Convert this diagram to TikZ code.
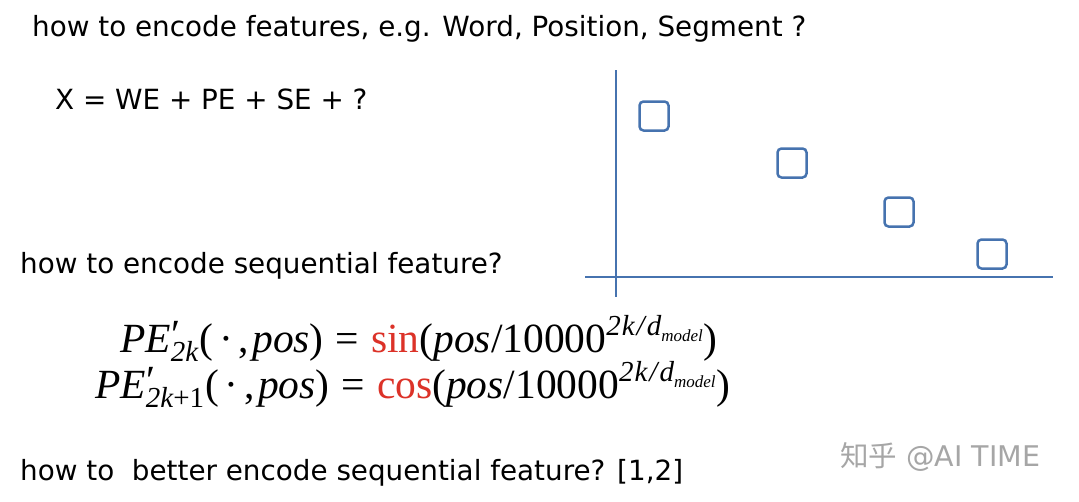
\documentclass[tikz,border=0pt]{standalone}
\usepackage{fontspec}
\setmainfont{DejaVu Sans}
\newfontfamily\cjk{Noto Sans CJK SC}
\newfontfamily\ser{Liberation Serif}
\definecolor{axblue}{RGB}{70,115,175}
\definecolor{fred}{RGB}{220,50,40}
\newcommand{\subsm}[1]{\raisebox{-9pt}{\fontsize{29}{29}\selectfont #1}}
\newcommand{\supsm}[1]{\raisebox{17pt}{\fontsize{29}{29}\selectfont #1}}
\newcommand{\dmod}{\supsm{\itshape 2\kern1pt k\kern2pt/\kern2pt d\raisebox{-6pt}{\fontsize{17}{17}\selectfont model}}}
\begin{document}
\begin{tikzpicture}[x=1pt,y=-1pt,
  txt/.style={anchor=base west,inner sep=0pt,font=\fontsize{27.8}{30}\selectfont},
  frm/.style={anchor=base west,inner sep=0pt,font=\ser\itshape\fontsize{41.5}{44}\selectfont},
  ax/.style={draw=axblue,line width=2.5pt},
  sq/.style={draw=axblue,line width=2.5pt,rounded corners=4pt,minimum size=29pt,inner sep=0pt}]
\useasboundingbox (0,0) rectangle (1079,501);
\node[txt] (t1) at (32,36) {how to encode features, e.g. Word, Position, Segment ?};
\node[txt] (t2) at (55,109) {X = WE + PE + SE + ?};
\node[txt] (t3) at (20,273) {how to encode sequential feature?};
\node[txt] (t4) at (20,480) {how to\ \ better encode sequential feature? [1,2]};
\coordinate (vt) at (616,70); \coordinate (vb) at (616,297);
\coordinate (hl) at (585,277); \coordinate (hr) at (1053,277);
\draw[ax] (vt) -- (vb);
\draw[ax] (hl) -- (hr);
\node[sq] (s1) at (654,116) {};
\node[sq] (s2) at (792,163) {};
\node[sq] (s3) at (899,212) {};
\node[sq] (s4) at (992,254) {};
\node[frm] (f1) at (120,352)
  {PE\rlap{\raisebox{4pt}{\upshape\kern1pt′}}\subsm{2k}\kern1pt\upshape(\kern6pt·\kern6pt,\kern3pt\itshape pos\upshape)\kern12pt=\kern12pt\textcolor{fred}{sin}(\itshape pos\upshape/10000\dmod\kern1pt\upshape)};
\node[frm] (f2) at (95,398)
  {PE\rlap{\raisebox{4pt}{\upshape\kern1pt′}}\subsm{2k\upshape+1}\kern1pt\upshape(\kern6pt·\kern6pt,\kern3pt\itshape pos\upshape)\kern12pt=\kern12pt\textcolor{fred}{cos}(\itshape pos\upshape/10000\dmod\kern1pt\upshape)};
\node[anchor=base west,inner sep=0pt,text=gray!70,font=\fontsize{28.5}{30}\selectfont] (wm) at (840,466) {{\cjk 知乎} @AI TIME};
\end{tikzpicture}
\end{document}
